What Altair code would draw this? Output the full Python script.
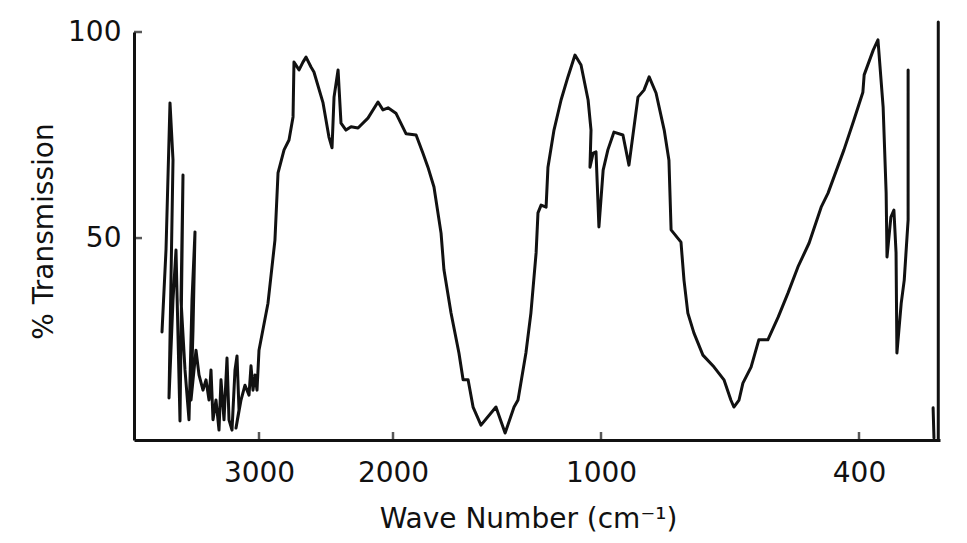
import altair as alt
import pandas as pd

# ---- data (wave number in cm^-1, % transmission) ----
WN_MAIN = [3776, 3744, 3712, 3688, 3720, 3688, 3664, 3632, 3608, 3624,
           3592, 3560, 3536, 3512, 3528, 3544, 3504, 3480, 3448, 3424,
           3400, 3384, 3368, 3344, 3320, 3304, 3280, 3256, 3240, 3216,
           3192, 3176, 3160, 3184, 3144, 3112, 3080, 3064, 3048, 3032,
           3016, 3000,
           2933, 2881, 2858, 2813, 2776, 2746, 2739, 2701, 2672, 2649,
           2612, 2590, 2522, 2478, 2455, 2440, 2410, 2388, 2351, 2313,
           2261, 2187, 2112, 2075, 2037, 1986, 1937, 1889, 1856, 1832,
           1803, 1769, 1755, 1721, 1683, 1663, 1639, 1615, 1577, 1505,
           1461, 1418, 1399, 1361, 1337, 1312, 1303, 1288, 1264, 1255,
           1226, 1192, 1159, 1125, 1096, 1062, 1048, 1053, 1038, 1024,
           1010, 995, 984, 970, 949, 935, 914, 900, 888, 872,
           853, 842, 837, 814, 807, 798, 784, 763, 737, 714,
           698, 691, 679, 670, 651, 633, 612, 588, 565, 542,
           516, 488, 472, 435, 412, 391, 388, 367, 356, 344,
           337, 335, 326, 319, 314, 312, 302, 295, 286, 286]

T_MAIN = [27.2, 47.1, 82.8, 68.9, 11.2, 35.0, 47.1, 5.6, 65.3, 35.0,
          18.0, 5.9, 35.0, 51.5, 27.7, 10.7, 22.8, 16.8, 13.1, 15.6,
          10.7, 18.0, 5.9, 10.7, 3.4, 15.6, 5.9, 20.9, 5.9, 3.4,
          18.0, 21.4, 8.3, 3.9, 10.7, 14.3, 11.9, 19.0, 13.1, 16.8,
          13.1, 22.8,
          34.2, 49.5, 65.8, 71.4, 73.8, 79.4, 92.7, 90.8, 92.7, 93.9,
          91.5, 90.3, 82.8, 74.5, 71.9, 84.2, 90.8, 77.9, 76.2, 77.0,
          76.7, 79.1, 83.0, 81.1, 81.6, 80.3, 75.3, 75.0, 70.6, 67.2,
          62.4, 51.2, 42.3, 31.8, 22.1, 15.6, 15.6, 9.0, 4.6, 9.0,
          2.7, 9.0, 10.7, 22.1, 31.8, 46.4, 56.1, 58.0, 57.5, 67.2,
          76.2, 83.5, 89.1, 94.4, 92.0, 83.5, 76.2, 67.2, 70.6, 70.9,
          52.7, 66.5, 71.4, 75.7, 75.0, 67.7, 84.2, 85.9, 89.1, 85.2,
          76.2, 68.9, 52.0, 49.0, 39.8, 31.8, 27.0, 21.6, 18.7, 15.6,
          10.7, 9.0, 10.7, 14.8, 18.7, 25.3, 25.3, 30.8, 36.7, 43.0,
          48.8, 57.5, 60.9, 71.4, 78.6, 85.4, 89.6, 95.6, 98.1, 81.8,
          60.9, 45.4, 55.1, 56.8, 46.4, 22.1, 34.2, 39.8, 54.4, 90.8]

WN_END_A = [228, 226]
T_END_A = [8.8, 1.5]
WN_END_B = [216, 216]
T_END_B = [1.0, 102.4]

TICK_WN = [3000, 2000, 1000, 400]
TICK_T = [50, 100]

rows = []
for seg, wns, ts in [("main", WN_MAIN, T_MAIN), ("end_a", WN_END_A, T_END_A), ("end_b", WN_END_B, T_END_B)]:
    for i, (w, t) in enumerate(zip(wns, ts)):
        rows.append({"seg": seg, "order": i, "wn": w, "t": t})
df = pd.DataFrame(rows)

df_xt = pd.DataFrame({"wn": TICK_WN, "t": [1] * len(TICK_WN)})
df_yt = pd.DataFrame({"wn": [4000] * len(TICK_T), "t": TICK_T})

FONT = "DejaVu Sans"
INK = "#111111"

x_scale = alt.Scale(domain=[4000, 3000, 2000, 1000, 400, 212],
                    range=[0, 125, 259, 467, 725, 806], nice=False, zero=False)
y_scale = alt.Scale(domain=[1, 100], nice=False, zero=False)

x_enc = alt.X("wn:Q", scale=x_scale,
              axis=alt.Axis(values=TICK_WN, format="d", title="Wave Number (cm⁻¹)",
                            ticks=False, grid=False, domainWidth=3, domainColor=INK,
                            labelFont=FONT, labelFontSize=28, labelColor=INK,
                            labelPadding=19, labelFlush=False, labelOverlap=False,
                            titleFont=FONT, titleFontSize=28, titleFontWeight="normal",
                            titleColor=INK, titleX=394, titleY=87,
                            titleBaseline="alphabetic", titleAlign="center"))
y_enc = alt.Y("t:Q", scale=y_scale,
              axis=alt.Axis(values=TICK_T, format="d", title="% Transmission",
                            ticks=False, grid=False, domainWidth=3, domainColor=INK,
                            labelFont=FONT, labelFontSize=28, labelColor=INK,
                            labelPadding=13, labelBaseline="middle", labelFlush=False,
                            labelOverlap=False,
                            titleFont=FONT, titleFontSize=28, titleFontWeight="normal",
                            titleColor=INK, titleX=-82, titleY=199, titleAngle=270,
                            titleBaseline="alphabetic", titleAlign="center"))

line = alt.Chart(df).mark_line(color=INK, strokeWidth=3, strokeJoin="round",
                               strokeCap="round", clip=False).encode(
    x=x_enc, y=y_enc, detail="seg:N", order="order:Q")

xticks = alt.Chart(df_xt).mark_tick(orient="vertical", size=8, thickness=2.5,
                                    yOffset=-4, color=INK).encode(x=x_enc, y=y_enc)
yticks = alt.Chart(df_yt).mark_tick(orient="horizontal", size=8, thickness=2.5,
                                    xOffset=4, color=INK).encode(x=x_enc, y=y_enc)

chart = alt.layer(line, xticks, yticks).properties(
    width=806, height=408,
    autosize=alt.AutoSizeParams(type="none"),
    padding={"left": 126, "top": 24, "right": 10, "bottom": 100},
    background="white",
).configure_view(stroke=None)

chart.save("out.html", embed_options={"renderer": "svg", "actions": False})
